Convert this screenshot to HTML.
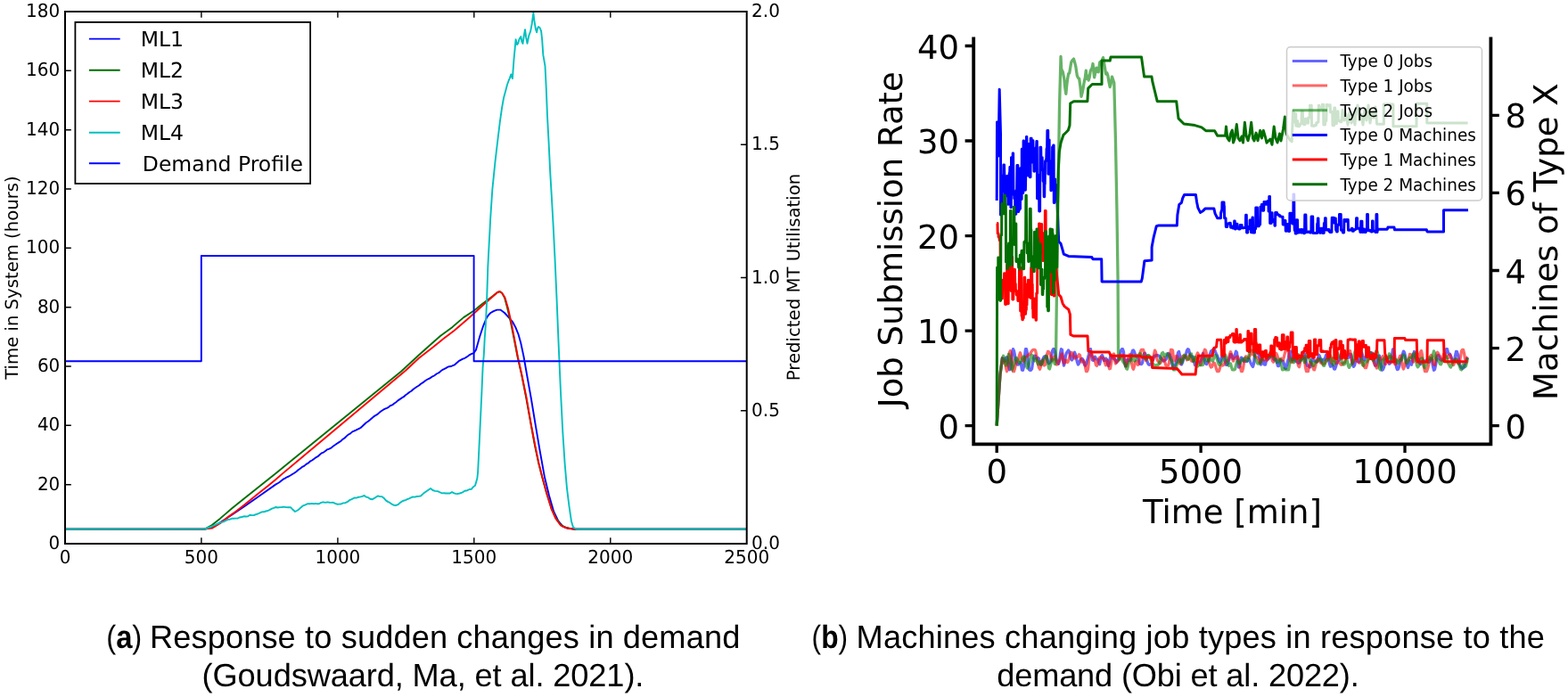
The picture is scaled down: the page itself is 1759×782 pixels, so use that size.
<!DOCTYPE html>
<html><head><meta charset="utf-8"><title>Figure</title>
<style>
html,body{margin:0;padding:0;background:#fff;}
body{width:1759px;height:782px;overflow:hidden;position:relative;}
svg{position:absolute;left:0;top:0;display:block;}
text{text-rendering:geometricPrecision;}
</style></head><body>
<svg width="1759" height="782" viewBox="0 0 1759 782">
<defs><clipPath id="clipL"><rect x="73.0" y="13.0" width="764.7" height="597.0"/></clipPath>
<clipPath id="clipR"><rect x="1092.2" y="39.5" width="580.2" height="458.8"/></clipPath></defs>
<g clip-path="url(#clipL)"><polyline points="73,593.7 229.8,593.5 238,591.5 246.8,586.4 253.5,582 260.3,577.4 273.7,568.5 291.6,556 309.5,543.4 311.6,542.2 313.6,541 315.7,539.3 317.7,537.7 319.8,536.6 321.9,535.3 323.9,534.5 326,533.3 328,532 330.1,530.7 332.3,529.2 334.5,527.2 336.7,525.7 338.9,523.9 341.2,522.9 343.4,520.9 345.6,519.7 347.8,517.7 350,516.5 352.1,514.9 354.3,513.3 356.4,512.2 358.6,510.2 360.7,508.4 362.9,507.6 365,506.1 367.1,504.3 369.3,503.6 371.4,502.6 373.6,500.7 375.7,499.3 377.9,497.7 380,496.4 382.2,495 384.4,492.9 386.6,491.5 388.7,489.4 390.9,487.5 393.1,486.3 395.3,484.4 397.3,483.5 399.3,482.7 401.3,481.7 403.3,480.7 405.3,479.4 408,476.8 410.7,474.2 413,472.7 415.4,470.8 417.7,468.7 420,466.8 422,465.7 424,464.4 426,462.5 428,461 430,459.7 432,458.7 434,457.9 436,456.7 438,455.1 440,454.4 442.1,452.7 444.3,451.2 446.4,449.4 448.6,447.9 450.7,446.4 452.9,445.2 455,443.2 457.1,441.8 459.3,440 461.4,438.8 463.6,436.8 465.7,435.2 467.9,433.7 470,432.5 472,430.7 474.1,429.4 476.1,427.9 478.1,426.5 480.2,425.3 482.2,424.4 484.6,422.7 487.1,421.5 489.6,419.5 492,418.4 494,416.8 496,415.1 498,414.2 500,413.2 502,411.9 504,411.2 506,411 508,410.1 510,409.3 512.3,407.2 514.6,405.2 516.9,403.9 519.2,402.6 521.5,401.8 523.7,400.4 526,398.7 528.8,397.2 531.6,396.1 534,392.4 536.1,385 538.3,377.2 542,366 544,361.1 546,356.4 548,353.5 550,351.3 553.7,349.1 557.5,347.6 561.3,347.6 566,351 570.9,356.3 575,361 578.6,367.8 581.5,375 584.3,385 587.5,400 591,420 596,448 600.7,476.7 605.5,505 611,535.6 616,556 621.2,574 626,584 631.4,590.6 638,593 646.7,593.7 837.7,593.7" fill="none" stroke="#0000ff" stroke-width="1.9" stroke-linejoin="round" stroke-linecap="butt" /><polyline points="73,593.7 229.8,593.5 237.9,589.1 246.8,581.9 253.5,576.1 260.3,570.3 273.7,559.5 291.6,545.2 309.5,530.9 330,514.3 350,498 370,481.8 390,465.5 410,449.3 430,433.1 450,416.8 470,398.2 482,387.5 494.2,376.7 507.6,366.9 520.1,356.1 531.8,348.5 540,341.8 545,338 553,332 558,328 560.5,327.2 563,328.5 566,334 569,345 573,362 577,382 580.5,400 585,420 590,445 595.2,474 600,500 604,519 608,534.5 613,553 618.6,570.5 623.5,581 628.8,588.5 635,592 642,593.4 646.7,593.7 837.7,593.7" fill="none" stroke="#006e00" stroke-width="1.9" stroke-linejoin="round" stroke-linecap="butt" /><polyline points="73,593.7 229.8,593.5 237.9,592.6 246.8,587.3 255.8,580.1 264.7,573.8 273.7,566.7 282.6,559.5 291.6,552.3 300.5,545.2 309,538.2 317.5,530.9 335,516.2 355,499.5 375,482.7 395,466 415,449.2 435,432.4 455,415.7 470,401.8 486.1,389.2 497.5,380 509.4,370.9 523.7,358.8 532.7,350.7 540,344 545,339.5 553,332.5 558,328 560.5,327.2 563,328.5 566.5,334 570,346 574,364 578,385 581,401 585.5,421 590.5,446 595.6,475 600.5,501 604.5,520 608.4,535.6 613.5,554 618.6,571 623.5,582 628.8,589.3 635,592.3 642,593.4 646.7,593.7 837.7,593.7" fill="none" stroke="#ff0000" stroke-width="1.9" stroke-linejoin="round" stroke-linecap="butt" /><polyline points="73,593.7 229.8,593.5 238,590.5 246.8,586.3 249.1,585.6 251.3,585.2 253.6,584 255.8,582.9 257.9,582.7 259.9,581.8 261.9,581.7 264,581.6 266.4,581.6 268.9,580.5 271.3,580 273.7,579.3 275.9,579.5 278.2,579.2 280.4,577.8 282.6,578.1 284.9,578 287.1,577.1 289.3,576.5 291.6,575.4 293.8,574.4 296,574.3 298.3,573.5 300.5,573 302.8,571.9 305,570.6 307.2,569.9 309.5,569 311.7,569.5 313.9,569.1 316.2,569 318.4,568.6 320.9,569.1 323.5,569.3 326,569.2 328.5,571.8 331,574 333,573 335,571.8 337.5,569.4 340,567.3 342.6,566.3 345.2,565.2 347.8,565.2 349.8,564.9 351.9,565.3 353.9,564.8 356,565.3 358,565.3 360.3,563.9 362.6,563.3 365,563.9 367.3,563.4 369.6,563.7 371.7,563.9 373.9,563.8 376,564.9 378.2,565.7 380.4,565.6 382.6,565.5 385,564.4 387.3,564.2 389.6,563.2 392,561.2 394,560.3 396,559.3 398,558.4 400,558.6 402.2,557.7 404.4,557.4 406.5,556.9 408.7,556 410.9,557.7 413,558.2 415.2,559.8 417.4,560.3 419.6,559.2 421.8,557.7 424,556.4 426.1,557.1 428.3,557.1 430.5,558.7 432.8,561.4 435,562.9 437.2,563.9 439.4,565.6 441.7,566.7 443.9,567 446.4,566.2 449,563.9 451.9,562 454.8,561.1 456.9,560.1 458.9,559.3 460.9,558.3 463,557.5 465.3,557.6 467.6,557 469.9,556.9 472.2,556.3 475.1,553.6 478,551.5 480.5,549.7 483,548 485.5,550 488,550.9 490.9,551.1 493.9,552.5 495.9,553.4 498,553.3 500,553.5 502.3,553.5 504.7,553.5 507,552.1 509,553.2 511,553.9 513,554.1 515.7,553.5 518.4,552.7 521.3,550.7 524.3,550.2 526.6,549 529,548.7 531,546.2 533,544.8 535.3,537 536.1,530 537,512 537.8,495 539,470 540.4,440 541.6,412 542.8,398 543.7,380 544.8,365 546,340 546.5,325 547.3,300 548.6,274.6 550.3,243 552.3,213 555.4,182.3 558,160 560.9,136.2 563.1,120.8 565,110 567.1,102.3 569,95 570.8,90 571.7,88.1 573.3,83.4 574.9,88.1 576.4,67.7 577.5,56 578.6,44.2 580,50 581.1,48.9 582.5,44 584.3,41 585.5,47 586.5,48.9 587.8,40 589,33.2 590.2,42 591.5,48.9 593.3,40 595.2,34.8 596.8,26 598.4,14.4 599.2,22 600,26.9 601,33 602.1,36.3 603,32 604,30.1 605.5,31 607.1,34.8 608.2,45 609.3,61.4 611.5,74 612.8,100 614,130.4 615.6,160 617.2,193.1 618.8,220 620.5,250 622.5,290 624.4,332.1 626.8,390 629,440 631.3,485 633.6,520 636,548 638.5,568 641,585 643,591.5 646.7,593.7 837.7,593.7" fill="none" stroke="#00bfbf" stroke-width="1.9" stroke-linejoin="round" stroke-linecap="butt" /><polyline points="73,405.3 225.8,405.3 225.8,287 531.6,287 531.6,405.3 837.7,405.3" fill="none" stroke="#0000ff" stroke-width="1.9" stroke-linejoin="round" stroke-linecap="butt" /></g><rect x="73.0" y="13.0" width="764.7" height="597.0" fill="none" stroke="#000" stroke-width="2"/><path d="M225.9 610.0v-6.8M225.9 13.0v6.8M378.9 610.0v-6.8M378.9 13.0v6.8M531.8 610.0v-6.8M531.8 13.0v6.8M684.8 610.0v-6.8M684.8 13.0v6.8M73.0 543.7h6.8M73.0 477.3h6.8M73.0 411.0h6.8M73.0 344.7h6.8M73.0 278.3h6.8M73.0 212.0h6.8M73.0 145.7h6.8M73.0 79.3h6.8M837.7 460.8h-6.8M837.7 311.5h-6.8M837.7 162.2h-6.8" stroke="#000" stroke-width="1.4" fill="none"/><g font-family="DejaVu Sans, Liberation Sans, sans-serif" font-size="20.6" fill="#000"><text x="67.3" y="616.1" text-anchor="end" textLength="12.7" lengthAdjust="spacingAndGlyphs">0</text><text x="67.3" y="549.8" text-anchor="end" textLength="25.4" lengthAdjust="spacingAndGlyphs">20</text><text x="67.3" y="483.4" text-anchor="end" textLength="25.4" lengthAdjust="spacingAndGlyphs">40</text><text x="67.3" y="417.1" text-anchor="end" textLength="25.4" lengthAdjust="spacingAndGlyphs">60</text><text x="67.3" y="350.8" text-anchor="end" textLength="25.4" lengthAdjust="spacingAndGlyphs">80</text><text x="67.3" y="284.4" text-anchor="end" textLength="38.2" lengthAdjust="spacingAndGlyphs">100</text><text x="67.3" y="218.1" text-anchor="end" textLength="38.2" lengthAdjust="spacingAndGlyphs">120</text><text x="67.3" y="151.8" text-anchor="end" textLength="38.2" lengthAdjust="spacingAndGlyphs">140</text><text x="67.3" y="85.4" text-anchor="end" textLength="38.2" lengthAdjust="spacingAndGlyphs">160</text><text x="67.3" y="19.1" text-anchor="end" textLength="38.2" lengthAdjust="spacingAndGlyphs">180</text><text x="73.0" y="631.9" text-anchor="middle" textLength="12.7" lengthAdjust="spacingAndGlyphs">0</text><text x="225.9" y="631.9" text-anchor="middle" textLength="38.2" lengthAdjust="spacingAndGlyphs">500</text><text x="378.9" y="631.9" text-anchor="middle" textLength="50.9" lengthAdjust="spacingAndGlyphs">1000</text><text x="531.8" y="631.9" text-anchor="middle" textLength="50.9" lengthAdjust="spacingAndGlyphs">1500</text><text x="684.8" y="631.9" text-anchor="middle" textLength="50.9" lengthAdjust="spacingAndGlyphs">2000</text><text x="837.7" y="631.9" text-anchor="middle" textLength="50.9" lengthAdjust="spacingAndGlyphs">2500</text><text x="843.1" y="616.1" textLength="31.8" lengthAdjust="spacingAndGlyphs">0.0</text><text x="843.1" y="466.9" textLength="31.8" lengthAdjust="spacingAndGlyphs">0.5</text><text x="843.1" y="317.6" textLength="31.8" lengthAdjust="spacingAndGlyphs">1.0</text><text x="843.1" y="168.3" textLength="31.8" lengthAdjust="spacingAndGlyphs">1.5</text><text x="843.1" y="19.1" textLength="31.8" lengthAdjust="spacingAndGlyphs">2.0</text><text transform="translate(19.5 311.6) rotate(-90)" text-anchor="middle" font-size="19.65">Time in System (hours)</text><text transform="translate(896.7 311) rotate(-90)" text-anchor="middle" font-size="19.7">Predicted MT Utilisation</text></g><rect x="84.4" y="24.9" width="263.7" height="181.1" fill="#fff" stroke="#000" stroke-width="1.8"/><path d="M99.9 43.6H134.7" stroke="#0000ff" stroke-width="1.9"/><text x="157.7" y="52.1" font-family="DejaVu Sans, Liberation Sans, sans-serif" font-size="23.5">ML1</text><path d="M99.9 78.8H134.7" stroke="#006e00" stroke-width="1.9"/><text x="157.7" y="87.3" font-family="DejaVu Sans, Liberation Sans, sans-serif" font-size="23.5">ML2</text><path d="M99.9 113.6H134.7" stroke="#ff0000" stroke-width="1.9"/><text x="157.7" y="122.1" font-family="DejaVu Sans, Liberation Sans, sans-serif" font-size="23.5">ML3</text><path d="M99.9 148.8H134.7" stroke="#00bfbf" stroke-width="1.9"/><text x="157.7" y="157.3" font-family="DejaVu Sans, Liberation Sans, sans-serif" font-size="23.5">ML4</text><path d="M99.9 183.3H134.7" stroke="#0000ff" stroke-width="1.9"/><text x="159.8" y="191.8" font-family="DejaVu Sans, Liberation Sans, sans-serif" font-size="23.5">Demand Profile</text>
<g clip-path="url(#clipR)"><polyline points="1118.2,477.6 1120,450 1122,420 1124.4,402 1125.5,402.3 1126.5,405.5 1127.5,404.9 1128.5,401.6 1129.5,400.7 1130.5,404.7 1131.5,410.8 1132.5,414.9 1133.5,413.5 1134.5,405.5 1135.5,395.8 1136.5,391.7 1137.5,393.8 1138.5,398.9 1139.5,403.8 1140.5,407.7 1141.5,409.2 1142.5,409.1 1143.5,408 1144.5,406.4 1145.5,408.7 1146.5,415.2 1147.5,415.3 1148.5,411.5 1149.5,399.9 1150.5,391.7 1151.5,391.7 1152.5,396.8 1153.5,406.5 1154.5,414.6 1155.5,415.3 1156.5,415.3 1157.5,413.9 1158.5,407.4 1159.5,402.1 1160.5,399.1 1161.5,399.4 1162.5,402.1 1163.5,403 1164.5,401.6 1165.5,402.4 1166.5,406.5 1167.5,409.3 1168.5,408 1169.5,404.4 1170.5,401.4 1171.5,400 1172.5,399.7 1173.5,400.1 1174.5,402.3 1175.5,405.9 1176.5,407.7 1177.5,407.2 1178.5,405.7 1179.5,401.3 1180.5,393.7 1181.5,391.7 1182.5,391.7 1183.5,394.9 1184.5,400.6 1185.5,404.5 1186.5,407 1187.5,408.2 1188.5,405.5 1189.5,396.4 1190.5,391.7 1191.5,392.6 1192.5,404.2 1193.5,410.1 1194.5,406 1195.5,399.1 1196.5,395.8 1197.5,394.6 1198.5,393 1199.5,394.3 1200.5,398.9 1201.5,402.7 1202.5,404 1203.5,402.1 1204.5,397.6 1205.5,395.3 1206.5,397.6 1207.5,402.1 1208.5,406.7 1209.5,409.1 1210.5,407.6 1211.5,404.9 1212.5,403.2 1213.5,402.4 1214.5,402.8 1215.5,405.5 1216.5,409 1217.5,410.2 1218.5,408.5 1219.5,404.8 1220.5,401.5 1221.5,397.3 1222.5,391.8 1223.5,391.7 1224.5,398.2 1225.5,404 1226.5,404.4 1227.5,401.2 1228.5,400.3 1229.5,402.5 1230.5,403.2 1231.5,403.1 1232.5,406.3 1233.5,408.7 1234.5,405 1235.5,399.6 1236.5,398.4 1237.5,401.3 1238.5,404.5 1239.5,404.3 1240.5,402.1 1241.5,403.3 1242.5,408.1 1243.5,410.5 1244.5,406.9 1245.5,400.8 1246.5,399.1 1247.5,401 1248.5,402 1249.5,402.2 1250.5,402.8 1251.5,404.6 1252.5,406.5 1253.5,405.2 1254.5,402.3 1255.5,400.4 1256.5,397.6 1257.5,393.3 1258.5,391.7 1259.5,391.7 1260.5,394.8 1261.5,404.7 1262.5,410.9 1263.5,408.4 1264.5,403.4 1265.5,403.1 1266.5,404.6 1267.5,404.1 1268.5,401.2 1269.5,396.7 1270.5,393.4 1271.5,393 1272.5,394.7 1273.5,397.7 1274.5,399.7 1275.5,399.1 1276.5,399.7 1277.5,404.1 1278.5,407.9 1279.5,408.4 1280.5,408.7 1281.5,407.1 1282.5,401.3 1283.5,396.7 1284.5,396.3 1285.5,399.4 1286.5,403.8 1287.5,407.2 1288.5,409 1289.5,409.3 1290.5,408.7 1291.5,408.1 1292.5,406.6 1293.5,403.5 1294.5,399.9 1295.5,399.1 1296.5,399.3 1297.5,398.4 1298.5,398.6 1299.5,399.1 1300.5,399.3 1301.5,401 1302.5,402.5 1303.5,403.1 1304.5,404.5 1305.5,405.1 1306.5,404.1 1307.5,403.6 1308.5,402.4 1309.5,398.8 1310.5,396.4 1311.5,397 1312.5,398.3 1313.5,400.8 1314.5,405.8 1315.5,411.4 1316.5,413.9 1317.5,412 1318.5,409.3 1319.5,406.6 1320.5,401.5 1321.5,395.8 1322.5,394.4 1323.5,398.6 1324.5,405.5 1325.5,409 1326.5,406.7 1327.5,403.2 1328.5,401.6 1329.5,400.1 1330.5,397.2 1331.5,393.2 1332.5,391.7 1333.5,392.2 1334.5,396.2 1335.5,399 1336.5,399.8 1337.5,399.9 1338.5,401.9 1339.5,405.8 1340.5,409.6 1341.5,410 1342.5,407.4 1343.5,405.8 1344.5,406 1345.5,406.3 1346.5,406.2 1347.5,404.1 1348.5,399.2 1349.5,396.5 1350.5,399.4 1351.5,404.6 1352.5,408.1 1353.5,408.6 1354.5,406.8 1355.5,404.5 1356.5,401.2 1357.5,397 1358.5,394.1 1359.5,393.3 1360.5,392.3 1361.5,391.7 1362.5,392 1363.5,394.8 1364.5,397.2 1365.5,399.1 1366.5,401.8 1367.5,405.1 1368.5,406.5 1369.5,404.5 1370.5,400.8 1371.5,396.8 1372.5,394.8 1373.5,398.8 1374.5,405.9 1375.5,409.4 1376.5,409.4 1377.5,407.9 1378.5,404.7 1379.5,400.6 1380.5,397.6 1381.5,397.9 1382.5,401 1383.5,402.6 1384.5,401.1 1385.5,397.7 1386.5,394.2 1387.5,395.5 1388.5,404.1 1389.5,412.1 1390.5,411.4 1391.5,405 1392.5,401.1 1393.5,402 1394.5,404.4 1395.5,405.5 1396.5,405.3 1397.5,405.2 1398.5,405.6 1399.5,404.5 1400.5,402.5 1401.5,403.1 1402.5,405.9 1403.5,408.3 1404.5,410.1 1405.5,411.5 1406.5,408 1407.5,398.8 1408.5,393 1409.5,394 1410.5,396.1 1411.5,396.7 1412.5,398.5 1413.5,404 1414.5,409.1 1415.5,408.1 1416.5,404.2 1417.5,404.9 1418.5,409.1 1419.5,409.2 1420.5,404.5 1421.5,402.2 1422.5,402.9 1423.5,402 1424.5,400.5 1425.5,399.2 1426.5,397.8 1427.5,399.2 1428.5,402.5 1429.5,403.7 1430.5,403.1 1431.5,403.4 1432.5,406.8 1433.5,410.6 1434.5,410.7 1435.5,406.9 1436.5,404 1437.5,404.4 1438.5,405.1 1439.5,405.3 1440.5,408.5 1441.5,413 1442.5,413.4 1443.5,409.8 1444.5,405.6 1445.5,401.3 1446.5,396.1 1447.5,394.1 1448.5,398.5 1449.5,403.9 1450.5,403.9 1451.5,401.3 1452.5,402.2 1453.5,405.2 1454.5,405.8 1455.5,405.5 1456.5,407.3 1457.5,407.1 1458.5,403.9 1459.5,402.3 1460.5,402.8 1461.5,402.1 1462.5,399.2 1463.5,397.1 1464.5,400.6 1465.5,407.5 1466.5,410.3 1467.5,410.1 1468.5,411.3 1469.5,412 1470.5,408.5 1471.5,403.6 1472.5,402.4 1473.5,404.2 1474.5,405.1 1475.5,404.9 1476.5,405.7 1477.5,406.1 1478.5,402.6 1479.5,398.3 1480.5,399.7 1481.5,404.3 1482.5,405.9 1483.5,404.1 1484.5,403.1 1485.5,403.8 1486.5,402.2 1487.5,398.4 1488.5,397.2 1489.5,399.6 1490.5,403.6 1491.5,408.4 1492.5,411.3 1493.5,410.2 1494.5,408.9 1495.5,410.7 1496.5,413.8 1497.5,414.1 1498.5,411.4 1499.5,408.2 1500.5,405.6 1501.5,404.4 1502.5,403.8 1503.5,401 1504.5,397.3 1505.5,396.8 1506.5,398.2 1507.5,397.4 1508.5,396.9 1509.5,398.8 1510.5,400.1 1511.5,400.2 1512.5,401.4 1513.5,400.4 1514.5,397.2 1515.5,397.7 1516.5,403.8 1517.5,409.7 1518.5,411.3 1519.5,410 1520.5,406.1 1521.5,402.1 1522.5,402.8 1523.5,405.5 1524.5,406 1525.5,403.2 1526.5,397.9 1527.5,395.4 1528.5,398.3 1529.5,402.6 1530.5,403.9 1531.5,401.9 1532.5,399.2 1533.5,399.1 1534.5,398.9 1535.5,396.7 1536.5,395.7 1537.5,395.8 1538.5,395.7 1539.5,396.2 1540.5,399.4 1541.5,405.5 1542.5,410.2 1543.5,410.2 1544.5,406.2 1545.5,402 1546.5,399.6 1547.5,399.1 1548.5,403.9 1549.5,411.7 1550.5,415.2 1551.5,414.4 1552.5,411.8 1553.5,408.1 1554.5,404.2 1555.5,401.6 1556.5,402.3 1557.5,406 1558.5,408.3 1559.5,407.7 1560.5,405 1561.5,398.9 1562.5,391.8 1563.5,391.7 1564.5,397.3 1565.5,406.1 1566.5,412.1 1567.5,414.5 1568.5,414.1 1569.5,411.6 1570.5,407.2 1571.5,403.3 1572.5,400.6 1573.5,397 1574.5,394.1 1575.5,395.4 1576.5,400.1 1577.5,405.9 1578.5,410.6 1579.5,412.5 1580.5,409.3 1581.5,405 1582.5,406.6 1583.5,409.2 1584.5,404.6 1585.5,397.4 1586.5,394.5 1587.5,396.6 1588.5,401.2 1589.5,403.4 1590.5,402.1 1591.5,403.2 1592.5,407.3 1593.5,408.6 1594.5,407 1595.5,405.6 1596.5,405 1597.5,404.9 1598.5,405.6 1599.5,405.2 1600.5,403.8 1601.5,404.5 1602.5,406.4 1603.5,406 1604.5,403.6 1605.5,402.5 1606.5,405.1 1607.5,411.1 1608.5,415.3 1609.5,414.4 1610.5,409.8 1611.5,403.9 1612.5,399.3 1613.5,398.5 1614.5,400.7 1615.5,403.2 1616.5,403.8 1617.5,402.9 1618.5,403.3 1619.5,404.1 1620.5,400.9 1621.5,394.4 1622.5,391.7 1623.5,391.7 1624.5,395.6 1625.5,397.3 1626.5,397.2 1627.5,399.3 1628.5,402.1 1629.5,403.8 1630.5,405.7 1631.5,404.9 1632.5,399.4 1633.5,394.5 1634.5,394.6 1635.5,398.1 1636.5,403.3 1637.5,408.4 1638.5,411.4 1639.5,412.8 1640.5,413.4 1641.5,413 1642.5,411.5 1643.5,408.9 1644.5,405.4 1645.5,402.4 1646.5,400.8" fill="none" stroke="rgba(0,0,255,0.6)" stroke-width="3.3" stroke-linejoin="round" stroke-linecap="butt" /><polyline points="1118.2,477.6 1120,450 1122,420 1124.4,402 1125.5,407.4 1126.5,404.2 1127.5,405.8 1128.5,412.7 1129.5,416.7 1130.5,412.7 1131.5,402.9 1132.5,395.3 1133.5,393.6 1134.5,398.6 1135.5,408.7 1136.5,416.7 1137.5,416.7 1138.5,413.2 1139.5,408.3 1140.5,405.6 1141.5,405.1 1142.5,403.4 1143.5,398.6 1144.5,395.8 1145.5,399.1 1146.5,403.2 1147.5,404.8 1148.5,405.2 1149.5,403.3 1150.5,400.6 1151.5,400.2 1152.5,399.5 1153.5,398.1 1154.5,397.8 1155.5,397.1 1156.5,395.4 1157.5,393.8 1158.5,392.7 1159.5,392.3 1160.5,392.3 1161.5,393.1 1162.5,397.4 1163.5,403.7 1164.5,408.7 1165.5,412.5 1166.5,414.3 1167.5,411.4 1168.5,406 1169.5,404 1170.5,406.9 1171.5,410 1172.5,409.2 1173.5,404 1174.5,397.6 1175.5,394.4 1176.5,394.7 1177.5,396 1178.5,399.1 1179.5,403 1180.5,404.5 1181.5,403.4 1182.5,400.6 1183.5,399.6 1184.5,403.9 1185.5,409.1 1186.5,408.6 1187.5,405.5 1188.5,404.6 1189.5,402.4 1190.5,397.9 1191.5,397.1 1192.5,402.5 1193.5,407.6 1194.5,406.8 1195.5,404.2 1196.5,405.1 1197.5,406.6 1198.5,405.1 1199.5,401.8 1200.5,398.3 1201.5,395.7 1202.5,395.6 1203.5,397.2 1204.5,400 1205.5,402 1206.5,401.2 1207.5,400 1208.5,400.5 1209.5,400 1210.5,397.8 1211.5,398.6 1212.5,403.2 1213.5,406.1 1214.5,405.3 1215.5,404.6 1216.5,406.7 1217.5,411.7 1218.5,416.7 1219.5,416.7 1220.5,414.2 1221.5,405.4 1222.5,399.1 1223.5,396.5 1224.5,396.4 1225.5,399.2 1226.5,401.7 1227.5,402.5 1228.5,405.5 1229.5,409.7 1230.5,410.4 1231.5,407.8 1232.5,403.9 1233.5,401.1 1234.5,400.8 1235.5,401.4 1236.5,401.4 1237.5,401.5 1238.5,403.2 1239.5,407.2 1240.5,409.9 1241.5,407.3 1242.5,404.1 1243.5,407.7 1244.5,413.8 1245.5,413.4 1246.5,407.4 1247.5,402.1 1248.5,397.8 1249.5,397 1250.5,402.9 1251.5,408 1252.5,406.9 1253.5,405.2 1254.5,404.9 1255.5,403.3 1256.5,401.2 1257.5,399.5 1258.5,398.4 1259.5,398.4 1260.5,400 1261.5,404.7 1262.5,410.2 1263.5,411 1264.5,407.3 1265.5,403.5 1266.5,399.9 1267.5,397.7 1268.5,400.4 1269.5,406.7 1270.5,412.5 1271.5,414.3 1272.5,410.9 1273.5,406.5 1274.5,405.1 1275.5,406.8 1276.5,409.4 1277.5,408.3 1278.5,402.1 1279.5,394 1280.5,392.3 1281.5,392.3 1282.5,392.3 1283.5,395.7 1284.5,401.5 1285.5,404.5 1286.5,402 1287.5,399.4 1288.5,399.4 1289.5,400.1 1290.5,400.9 1291.5,403.1 1292.5,405.4 1293.5,404 1294.5,397.9 1295.5,393.1 1296.5,395.1 1297.5,400.9 1298.5,404.4 1299.5,405.7 1300.5,407.1 1301.5,407.5 1302.5,406.1 1303.5,404.4 1304.5,401.8 1305.5,401 1306.5,404.7 1307.5,409.1 1308.5,410.2 1309.5,409.8 1310.5,409.9 1311.5,407.3 1312.5,399.1 1313.5,392.3 1314.5,392.3 1315.5,393 1316.5,402.7 1317.5,404.8 1318.5,401.4 1319.5,399.4 1320.5,400 1321.5,403.2 1322.5,406.7 1323.5,408.2 1324.5,407.6 1325.5,404 1326.5,399.7 1327.5,399.3 1328.5,400.1 1329.5,399.2 1330.5,400.5 1331.5,403.8 1332.5,403.4 1333.5,399.7 1334.5,398.7 1335.5,402 1336.5,405 1337.5,405.3 1338.5,404.9 1339.5,404.2 1340.5,402.9 1341.5,401.3 1342.5,398.6 1343.5,396 1344.5,398 1345.5,404.9 1346.5,409.5 1347.5,407.2 1348.5,402.1 1349.5,398.3 1350.5,394.9 1351.5,392.3 1352.5,393.1 1353.5,396.8 1354.5,400.1 1355.5,402.8 1356.5,406.4 1357.5,410 1358.5,412.1 1359.5,411.6 1360.5,409 1361.5,407.1 1362.5,407.5 1363.5,410 1364.5,413.9 1365.5,416.7 1366.5,416.7 1367.5,416.4 1368.5,412.9 1369.5,409.4 1370.5,408.9 1371.5,410 1372.5,409.6 1373.5,408.1 1374.5,406.4 1375.5,404.6 1376.5,404.3 1377.5,404.6 1378.5,402 1379.5,397.1 1380.5,394.7 1381.5,397.2 1382.5,402.6 1383.5,405.1 1384.5,402.7 1385.5,401.6 1386.5,402.2 1387.5,400.5 1388.5,400.1 1389.5,403.3 1390.5,407.2 1391.5,412.3 1392.5,416.7 1393.5,416.7 1394.5,413.5 1395.5,407 1396.5,402.2 1397.5,399.9 1398.5,400.1 1399.5,401.1 1400.5,401.4 1401.5,400.5 1402.5,398 1403.5,396.2 1404.5,396.6 1405.5,397.7 1406.5,398.4 1407.5,399.4 1408.5,400 1409.5,400.3 1410.5,401.3 1411.5,402.6 1412.5,405.2 1413.5,407.3 1414.5,404.9 1415.5,401.5 1416.5,402.7 1417.5,404.1 1418.5,402.5 1419.5,402.3 1420.5,403.7 1421.5,404.1 1422.5,402.4 1423.5,398.5 1424.5,395.7 1425.5,396.9 1426.5,400.9 1427.5,405 1428.5,406.2 1429.5,403.9 1430.5,399.4 1431.5,396.2 1432.5,397.8 1433.5,401.3 1434.5,403.5 1435.5,404.2 1436.5,402.8 1437.5,402.2 1438.5,404 1439.5,403.8 1440.5,399.9 1441.5,395.6 1442.5,392.4 1443.5,392.3 1444.5,392.3 1445.5,395.5 1446.5,402 1447.5,405 1448.5,406.3 1449.5,406.5 1450.5,403.9 1451.5,400.1 1452.5,398.2 1453.5,399.2 1454.5,401.8 1455.5,405.6 1456.5,410.3 1457.5,411.7 1458.5,407 1459.5,401.5 1460.5,400 1461.5,399.8 1462.5,399.2 1463.5,402.2 1464.5,412.4 1465.5,416.7 1466.5,416.7 1467.5,416.7 1468.5,410.4 1469.5,406.8 1470.5,407.4 1471.5,408.4 1472.5,411 1473.5,414.4 1474.5,414.9 1475.5,411.5 1476.5,406.8 1477.5,403.3 1478.5,402.2 1479.5,403.2 1480.5,405.3 1481.5,407 1482.5,407.5 1483.5,408 1484.5,408.7 1485.5,408.1 1486.5,406.9 1487.5,405.1 1488.5,402.9 1489.5,401.9 1490.5,400.9 1491.5,400.3 1492.5,403.2 1493.5,406.8 1494.5,405.2 1495.5,401.9 1496.5,401.9 1497.5,404.9 1498.5,407.7 1499.5,407.3 1500.5,405.6 1501.5,405.7 1502.5,406.9 1503.5,408.1 1504.5,409.3 1505.5,409.1 1506.5,407.6 1507.5,407 1508.5,406.7 1509.5,402.9 1510.5,397.5 1511.5,395.1 1512.5,395.4 1513.5,394.5 1514.5,393.6 1515.5,398.2 1516.5,405.7 1517.5,407.9 1518.5,405.3 1519.5,404 1520.5,404.1 1521.5,403.8 1522.5,404.5 1523.5,406.1 1524.5,407 1525.5,407.1 1526.5,405.6 1527.5,403.7 1528.5,405.6 1529.5,409.4 1530.5,411.3 1531.5,412.7 1532.5,412.7 1533.5,409.3 1534.5,405.1 1535.5,402.6 1536.5,401.8 1537.5,402.1 1538.5,402.2 1539.5,402.6 1540.5,404.8 1541.5,407.4 1542.5,408.9 1543.5,411.1 1544.5,413 1545.5,411.3 1546.5,406.4 1547.5,401.9 1548.5,401.4 1549.5,403.2 1550.5,401.7 1551.5,399.5 1552.5,403 1553.5,407.9 1554.5,408.5 1555.5,406 1556.5,403 1557.5,400.9 1558.5,399.7 1559.5,399.9 1560.5,400.6 1561.5,400.4 1562.5,400.9 1563.5,404.2 1564.5,408.2 1565.5,409 1566.5,406.8 1567.5,404.7 1568.5,403.5 1569.5,402 1570.5,399.4 1571.5,399.1 1572.5,404.5 1573.5,411.9 1574.5,414.1 1575.5,411 1576.5,407 1577.5,404.5 1578.5,404.4 1579.5,404.5 1580.5,401.2 1581.5,397.5 1582.5,397.6 1583.5,400.3 1584.5,404.1 1585.5,406 1586.5,404.7 1587.5,401.2 1588.5,396.7 1589.5,394.9 1590.5,399.3 1591.5,404.2 1592.5,401.4 1593.5,394.9 1594.5,393.6 1595.5,398.6 1596.5,405.7 1597.5,412.2 1598.5,416.7 1599.5,416.7 1600.5,416.7 1601.5,413.8 1602.5,410.3 1603.5,404.9 1604.5,399.8 1605.5,398.6 1606.5,400.9 1607.5,404.7 1608.5,409 1609.5,409.4 1610.5,403.5 1611.5,397.4 1612.5,395.3 1613.5,396.6 1614.5,398.5 1615.5,399.7 1616.5,402.4 1617.5,404.6 1618.5,402.3 1619.5,397.4 1620.5,396.2 1621.5,397.9 1622.5,399.3 1623.5,401.6 1624.5,401.7 1625.5,398.6 1626.5,397.9 1627.5,400.4 1628.5,403.5 1629.5,407.5 1630.5,409.5 1631.5,407.5 1632.5,404.3 1633.5,402.7 1634.5,403.9 1635.5,406.9 1636.5,408 1637.5,405.4 1638.5,400.2 1639.5,393.9 1640.5,392.3 1641.5,392.3 1642.5,396.3 1643.5,402.7 1644.5,403.8 1645.5,401.5 1646.5,400.6" fill="none" stroke="rgba(255,0,0,0.6)" stroke-width="3.3" stroke-linejoin="round" stroke-linecap="butt" /><polyline points="1118.2,477.6 1120,450 1122,420 1124.4,402 1125.5,399.3 1126.5,401.3 1127.5,406.5 1128.5,410 1129.5,408 1130.5,401.9 1131.5,397.4 1132.5,399.8 1133.5,407.3 1134.5,413.9 1135.5,414.9 1136.5,411.5 1137.5,407.2 1138.5,403.6 1139.5,401.5 1140.5,401.7 1141.5,403.5 1142.5,405.8 1143.5,407.3 1144.5,407.1 1145.5,405.3 1146.5,402.7 1147.5,401 1148.5,399.9 1149.5,400.4 1150.5,405.2 1151.5,411 1152.5,412.9 1153.5,411.1 1154.5,408.1 1155.5,404 1156.5,399.9 1157.5,398.3 1158.5,399.6 1159.5,403.1 1160.5,404.9 1161.5,403.1 1162.5,402.4 1163.5,406 1164.5,408.8 1165.5,407.7 1166.5,405.7 1167.5,407.1 1168.5,409 1169.5,406.9 1170.5,403.7 1171.5,402.7 1172.5,401.7 1173.5,399.3 1174.5,400.1 1175.5,406.3 1176.5,413.1 1177.5,413.9 1178.5,409.8 1179.5,405.7 1180.5,403.2 1181.5,403.4 1182.5,406.4 1183.5,408.6 1184.5,400 1186.5,250 1188.5,120 1190,63.5 1190.7,77.6 1192.3,80.7 1193.8,88.4 1194.8,98.6 1195.8,105.3 1196.7,95.8 1197.6,88.4 1198.6,82.7 1199.7,82.1 1200.7,76.1 1201.8,69.6 1203,67.7 1204.5,66.1 1205.7,70.2 1206.8,74.6 1207.6,80.3 1208.4,85.3 1209.6,87.5 1210.7,88.4 1211.8,96.2 1213,108.3 1214.2,103.7 1215.3,97.6 1216.3,91.5 1217.3,87.4 1218.3,79.2 1219.1,88.4 1220.1,85 1221.2,90.1 1222.2,86.8 1223.1,80.4 1224,78 1225,76.6 1226,71.5 1227.6,86.8 1228.8,81.5 1229.9,76.1 1231.1,80.4 1232.2,80.7 1233.7,70 1234.6,69.1 1235.5,72 1236.5,67.2 1237.5,64.6 1239.1,73.8 1240.6,83 1241.8,81.7 1242.9,85.3 1244,92 1245.2,97.6 1246.3,93.5 1247.5,86.1 1248.7,89.8 1249.8,93 1250.5,120 1251.5,160 1253,240 1254.1,316 1254.5,398 1255.5,403.3 1256.5,399.5 1257.5,399.6 1258.5,402.4 1259.5,405.2 1260.5,406.9 1261.5,407.5 1262.5,409.6 1263.5,413.4 1264.5,414.2 1265.5,410.5 1266.5,406.5 1267.5,405.5 1268.5,404.4 1269.5,400.7 1270.5,398.4 1271.5,401 1272.5,405 1273.5,404.9 1274.5,401.5 1275.5,399.6 1276.5,399.3 1277.5,398.2 1278.5,396.7 1279.5,397.1 1280.5,398.7 1281.5,400.1 1282.5,400.7 1283.5,400.9 1284.5,401.9 1285.5,402.9 1286.5,401.3 1287.5,398.7 1288.5,398.5 1289.5,399.5 1290.5,401.5 1291.5,405 1292.5,407.3 1293.5,407.9 1294.5,409.2 1295.5,411 1296.5,410.5 1297.5,409.5 1298.5,409.6 1299.5,409.2 1300.5,407.6 1301.5,403.9 1302.5,399.3 1303.5,396.2 1304.5,395.6 1305.5,397.6 1306.5,399.8 1307.5,399 1308.5,397.1 1309.5,396.8 1310.5,398.2 1311.5,400.4 1312.5,402.3 1313.5,403.6 1314.5,404.7 1315.5,408.5 1316.5,414.9 1317.5,414.9 1318.5,414.9 1319.5,411.7 1320.5,407.4 1321.5,406.1 1322.5,404.3 1323.5,402.9 1324.5,404.6 1325.5,407.4 1326.5,405.8 1327.5,400.8 1328.5,398.2 1329.5,399.2 1330.5,401.2 1331.5,402.1 1332.5,403 1333.5,403.2 1334.5,400.5 1335.5,397.2 1336.5,397 1337.5,400.9 1338.5,405.4 1339.5,404.3 1340.5,400.5 1341.5,402.9 1342.5,409.1 1343.5,411 1344.5,409.5 1345.5,409.3 1346.5,409.6 1347.5,409.4 1348.5,409.6 1349.5,409.3 1350.5,405.8 1351.5,401.6 1352.5,400.9 1353.5,402.9 1354.5,405 1355.5,405.2 1356.5,403.4 1357.5,401.9 1358.5,402.6 1359.5,404.7 1360.5,405 1361.5,402.1 1362.5,399.2 1363.5,398.4 1364.5,400 1365.5,403.5 1366.5,407 1367.5,409.2 1368.5,409.4 1369.5,407.6 1370.5,406 1371.5,404.5 1372.5,401.2 1373.5,397.7 1374.5,397.8 1375.5,400.9 1376.5,404.8 1377.5,409 1378.5,410.4 1379.5,408.4 1380.5,408 1381.5,411.8 1382.5,414.9 1383.5,414.9 1384.5,414.9 1385.5,414.3 1386.5,409.9 1387.5,405.7 1388.5,405 1389.5,406.7 1390.5,407.9 1391.5,407.2 1392.5,404.6 1393.5,403.3 1394.5,404.1 1395.5,403.7 1396.5,401.9 1397.5,402 1398.5,404.1 1399.5,405 1400.5,402.5 1401.5,396.3 1402.5,393.1 1403.5,393.1 1404.5,393.1 1405.5,393.1 1406.5,393.8 1407.5,398.3 1408.5,402.7 1409.5,405.4 1410.5,407.4 1411.5,408.2 1412.5,407.9 1413.5,407.4 1414.5,405.6 1415.5,403.2 1416.5,401.4 1417.5,399.3 1418.5,398.2 1419.5,398.4 1420.5,399.2 1421.5,400.3 1422.5,400.6 1423.5,400.3 1424.5,399.6 1425.5,399 1426.5,399 1427.5,399.3 1428.5,399.7 1429.5,400.1 1430.5,401.8 1431.5,404.8 1432.5,406.7 1433.5,406.6 1434.5,405.3 1435.5,403.1 1436.5,403.9 1437.5,409.8 1438.5,414.8 1439.5,414.9 1440.5,413.4 1441.5,414.3 1442.5,414.9 1443.5,414.9 1444.5,414.9 1445.5,414.9 1446.5,409.4 1447.5,404.3 1448.5,402.1 1449.5,403.3 1450.5,405.8 1451.5,406.7 1452.5,404.1 1453.5,400.6 1454.5,399.3 1455.5,398.2 1456.5,397.7 1457.5,401 1458.5,405.1 1459.5,404.5 1460.5,400.9 1461.5,400.5 1462.5,404.1 1463.5,406.6 1464.5,404.6 1465.5,400.2 1466.5,396.4 1467.5,396 1468.5,400.6 1469.5,405.2 1470.5,405.4 1471.5,406.4 1472.5,410 1473.5,410.4 1474.5,407.6 1475.5,406.2 1476.5,406.2 1477.5,405.5 1478.5,404.5 1479.5,403.5 1480.5,402.6 1481.5,402.5 1482.5,403.8 1483.5,407 1484.5,410.1 1485.5,410.4 1486.5,407.8 1487.5,404.4 1488.5,403.5 1489.5,404.1 1490.5,402.4 1491.5,399.4 1492.5,398.8 1493.5,401.8 1494.5,406.7 1495.5,409.8 1496.5,408.3 1497.5,404.1 1498.5,400.5 1499.5,397.6 1500.5,396.3 1501.5,398.7 1502.5,400.9 1503.5,400.8 1504.5,402.8 1505.5,406.4 1506.5,408 1507.5,409 1508.5,408.5 1509.5,405.5 1510.5,403 1511.5,405 1512.5,410.4 1513.5,412.4 1514.5,410.4 1515.5,409 1516.5,408.4 1517.5,406.3 1518.5,401.8 1519.5,396 1520.5,393.1 1521.5,393.1 1522.5,395.1 1523.5,395.7 1524.5,393.4 1525.5,393.1 1526.5,397.4 1527.5,404.4 1528.5,409.4 1529.5,410.3 1530.5,408.3 1531.5,405.8 1532.5,405.2 1533.5,405.9 1534.5,403.5 1535.5,398.4 1536.5,395.1 1537.5,395.9 1538.5,399.6 1539.5,402.9 1540.5,404.1 1541.5,403.5 1542.5,399.6 1543.5,394.2 1544.5,393.1 1545.5,396.1 1546.5,404.5 1547.5,413.5 1548.5,414.9 1549.5,411.9 1550.5,406.2 1551.5,403.6 1552.5,402.6 1553.5,401.1 1554.5,401 1555.5,403.4 1556.5,404.1 1557.5,400.4 1558.5,396.9 1559.5,398.3 1560.5,402.3 1561.5,405.2 1562.5,404.7 1563.5,402.4 1564.5,402.4 1565.5,403.2 1566.5,404.2 1567.5,406.8 1568.5,407.7 1569.5,405.5 1570.5,403.8 1571.5,404.2 1572.5,403.4 1573.5,400.2 1574.5,397.9 1575.5,399.1 1576.5,402.9 1577.5,406.6 1578.5,407.8 1579.5,406 1580.5,403.1 1581.5,401.4 1582.5,401.4 1583.5,401.3 1584.5,399.2 1585.5,397.2 1586.5,396.7 1587.5,398.7 1588.5,404.5 1589.5,410.2 1590.5,411.8 1591.5,410.6 1592.5,408.2 1593.5,405 1594.5,402.1 1595.5,402 1596.5,406.3 1597.5,411.5 1598.5,412.6 1599.5,409.8 1600.5,407.2 1601.5,405.2 1602.5,402.7 1603.5,401.1 1604.5,401.8 1605.5,403.8 1606.5,402.9 1607.5,397.6 1608.5,393.9 1609.5,396 1610.5,400.8 1611.5,403.5 1612.5,403.8 1613.5,404.3 1614.5,406.1 1615.5,408.5 1616.5,408.8 1617.5,406.4 1618.5,404.4 1619.5,404.3 1620.5,402.9 1621.5,400 1622.5,400.1 1623.5,404.1 1624.5,407.3 1625.5,408.9 1626.5,411 1627.5,412 1628.5,409.8 1629.5,406.7 1630.5,405.5 1631.5,404.5 1632.5,403.2 1633.5,403.4 1634.5,405.4 1635.5,407.5 1636.5,408.8 1637.5,411 1638.5,414.3 1639.5,414.9 1640.5,411.5 1641.5,408.7 1642.5,409.9 1643.5,411.6 1644.5,410.6 1645.5,406.7 1646.5,401.9" fill="none" stroke="rgba(0,128,0,0.6)" stroke-width="3.3" stroke-linejoin="round" stroke-linecap="butt" /><polyline points="1118.2,225 1118.5,137 1120,175 1121.2,100.2 1122.5,150 1122.5,241 1123.2,241 1123.4,239.2 1124.1,239.2 1124.3,214.7 1125.1,214.7 1125.3,196.7 1125.7,196.7 1125.9,184.9 1126.5,184.9 1126.8,196.8 1127.2,196.8 1127.5,220.1 1128.2,220.1 1128.5,216 1129.2,216 1129.4,218.4 1129.7,218.4 1130,197.6 1130.6,197.6 1130.9,229.3 1131.2,229.3 1131.5,226.1 1131.9,226.1 1132.2,194.5 1132.7,194.5 1132.9,187.5 1133.7,187.5 1133.9,232.7 1134.3,232.7 1134.5,176.8 1135,176.8 1135.2,218 1136,218 1136.2,172 1136.6,172 1136.9,214.7 1137.6,214.7 1137.8,222.8 1138.7,222.8 1138.9,240.2 1139.8,240.2 1140,213.7 1140.7,213.7 1141,185.6 1141.8,185.6 1142,237.6 1142.6,237.6 1142.9,235.5 1143.5,235.5 1143.7,234.3 1144.5,234.3 1144.7,188.7 1145.1,188.7 1145.4,223.6 1146.1,223.6 1146.3,167.3 1146.7,167.3 1147,216.6 1147.8,216.6 1148.1,157.9 1148.5,157.9 1148.8,205.9 1149.5,205.9 1149.7,213.2 1150.4,213.2 1150.7,197.3 1151.2,197.3 1151.5,153.4 1151.8,153.4 1152.1,172.6 1152.8,172.6 1153.1,196.9 1153.5,196.9 1153.7,161.5 1154.5,161.5 1154.7,193.4 1155.1,193.4 1155.3,198.7 1156,198.7 1156.2,155.2 1157.1,155.2 1157.4,182.1 1158,182.1 1158.3,157.8 1158.9,157.8 1159.2,177.7 1159.7,177.7 1160,192.3 1160.5,192.3 1160.8,185.1 1161.7,185.1 1161.9,165.9 1162.6,165.9 1162.9,158.4 1163.3,158.4 1163.5,222.8 1163.8,222.8 1164.1,207.4 1165,207.4 1165.2,196.4 1165.6,196.4 1165.8,236.9 1166.6,236.9 1166.9,165.2 1167.7,165.2 1168,182 1168.5,182 1168.7,176.7 1169.2,176.7 1169.4,190.5 1170,190.5 1170.2,203.4 1171,203.4 1171.2,220.7 1171.7,220.7 1171.9,206.6 1172.2,206.6 1172.5,181.1 1172.9,181.1 1173.2,179.4 1173.8,179.4 1174.1,166.7 1174.6,166.7 1174.9,146.6 1175.7,146.6 1175.9,195.3 1176.5,195.3 1176.8,157.1 1177.1,157.1 1177.3,180.3 1177.7,180.3 1178,187.7 1178.7,187.7 1178.9,213.8 1179.2,213.8 1179.5,212.8 1180.4,212.8 1180.6,165 1181.5,165 1181.7,163 1182.1,163 1182.3,227.6 1182.8,227.6 1183,201.1 1183.6,201.1 1183.8,216.2 1184.6,216.2 1184.9,207.7 1185.4,207.7 1185.7,220 1187.7,271 1190,273.3 1192.2,280.9 1193.3,285.2 1198.7,287.4 1224.8,288.5 1225.9,290.7 1235.7,290.7 1236.1,316.1 1280.2,316.1 1281.3,312.4 1283.9,292.8 1292.1,292 1292.1,277.3 1294.1,266.5 1297.3,253.7 1299.2,253.1 1320.3,253.1 1320.9,240.9 1322.8,229.4 1325.4,227.5 1326.7,222.4 1328.6,218.5 1341.4,218.5 1342.6,226.8 1343.9,233.2 1346.5,238.4 1349.7,236.4 1352.2,233.9 1361.8,233.9 1363.1,239.6 1365.7,244.7 1369.5,244.7 1369.6,238.5 1370,238.5 1370.3,236.3 1370.8,236.3 1371,226.9 1373,226.9 1373.2,231.2 1373.4,231.2 1373.6,244.8 1375,244.8 1375.3,254.4 1376.8,254.4 1377.1,251 1378.8,251 1379,250.2 1380.3,250.2 1380.6,255.2 1382,255.2 1382.2,254 1382.8,254 1383.1,255.9 1384.5,255.9 1384.7,247.9 1385.2,247.9 1385.5,257 1386.2,257 1386.5,251.2 1388,251.2 1388.2,256.2 1389.4,256.2 1389.6,257 1391,257 1391.3,252.5 1393,252.5 1393.3,255.8 1394.2,255.8 1394.4,255.8 1395.3,255.8 1395.6,255.6 1397.3,255.6 1397.6,241.3 1398.3,241.3 1398.6,260.9 1399.7,260.9 1400,254.7 1400.4,254.7 1400.7,256.7 1401.9,256.7 1402.1,247 1403.2,247 1403.5,260.7 1404.7,260.7 1405,244 1405.4,244 1405.7,261.1 1407.4,261.1 1407.6,256.7 1408.6,256.7 1408.8,232.9 1410.5,232.9 1410.7,253.7 1412.3,253.7 1412.6,252.1 1413.6,252.1 1413.9,232.2 1415,232.2 1415.3,229.6 1416.2,229.6 1416.4,236.3 1417.7,236.3 1418,226.4 1419.7,226.4 1419.9,229.3 1421.6,229.3 1421.8,225.8 1422.9,225.8 1423.1,237.1 1423.6,237.1 1423.8,220.5 1424.5,220.5 1424.7,250.4 1426.2,250.4 1426.5,238.7 1427.1,238.7 1427.4,248.4 1429,248.4 1429.2,246.3 1429.7,246.3 1430,253.3 1430.5,253.3 1430.7,238.5 1432.4,238.5 1432.6,240.7 1434.2,240.7 1434.4,241.4 1435.5,241.4 1435.7,242.8 1437,242.8 1437.3,243.3 1439,243.3 1439.2,252 1440.6,252 1440.9,247.5 1442,247.5 1442.3,259.2 1443.3,259.2 1443.6,251.6 1445.3,251.6 1445.5,259.5 1446.6,259.5 1446.9,239.3 1448.4,239.3 1448.6,246 1449.5,246 1449.8,251 1450.8,251 1451,218 1451.7,218 1451.9,249.2 1452,249.2 1452.3,258.5 1453,258.5 1453.3,262.1 1454.2,262.1 1454.5,246.8 1455.5,246.8 1455.8,261.1 1457.2,261.1 1457.4,257.8 1459.2,257.8 1459.4,257.4 1460.2,257.4 1459.6,260.9 1460.8,260.9 1461,257.8 1462.5,257.8 1462.8,261.8 1463.5,261.8 1463.8,241 1464.9,241 1465.2,260.5 1466.9,260.5 1467.2,259.9 1468.9,259.9 1469.2,260.9 1470.9,260.9 1471.1,243 1472.7,243 1473,261.6 1474.6,261.6 1474.8,261.5 1476.6,261.5 1476.8,261.6 1477.5,261.6 1477.7,251.1 1478.2,251.1 1478.4,244.9 1478.9,244.9 1479.2,256.8 1480.3,256.8 1480.6,261.3 1481.6,261.3 1481.8,256.3 1483.3,256.3 1483.6,261.5 1485.2,261.5 1485.4,250.5 1486.3,250.5 1486.5,244.7 1487.2,244.7 1487.4,258 1489.4,258 1489.6,257.5 1490.8,257.5 1491,259.5 1491.8,259.5 1492,260.5 1493.9,260.5 1494.2,244.2 1496.1,244.2 1496.3,250 1497.4,250 1497.6,245 1498.3,245 1498.6,257.9 1499.2,257.9 1499.5,259.9 1500.3,259.9 1500.5,252.3 1502.2,252.3 1502.5,240.5 1504.2,240.5 1504.4,258.3 1506.2,258.3 1506.4,261 1507.6,261 1507.9,246.4 1508.8,246.4 1509.1,248.3 1510.1,248.3 1510.3,246.4 1512.2,246.4 1512.5,258.2 1514.4,258.2 1514.6,258.1 1516,258.1 1516.3,256.2 1517,256.2 1517.3,259.3 1518.4,259.3 1518.7,257.8 1520.3,257.8 1520.6,257 1521.3,257 1521.6,244.8 1522.5,244.8 1522.7,256.2 1524.7,256.2 1524.9,257.3 1525.7,257.3 1525.9,260.5 1526.4,260.5 1526.7,248.2 1527.9,248.2 1528.1,260.6 1528.8,260.6 1529,256.9 1530.5,256.9 1530.8,260.5 1532.1,260.5 1532.3,258.9 1533.4,258.9 1533.6,240.5 1534.4,240.5 1534.6,257.8 1535.5,257.8 1535.8,259 1536.4,259 1536.7,258.4 1538.2,258.4 1538.4,260 1539.3,260 1539.5,248 1540.1,248 1540.3,258.8 1540.9,258.8 1541.2,259.2 1542.9,259.2 1543.2,260.6 1543.8,260.6 1544,240.5 1544.8,240.5 1545,260.6 1545.5,257.2 1556.3,257.2 1556.9,255.1 1564,255.1 1564.6,257.8 1600.4,257.8 1601,259.9 1619.5,259.9 1619.5,235.7 1647,235.7" fill="none" stroke="#0000ff" stroke-width="3" stroke-linejoin="round" stroke-linecap="butt" /><polyline points="1118.2,250.6 1119,250.6 1119.2,262 1120,262 1120.2,266.2 1121,266.2 1121.3,269.7 1122.1,269.7 1122.4,314 1123.3,314 1123.5,335 1124.4,335 1124.6,321.7 1125.4,321.7 1125.6,314.3 1126.4,314.3 1126.6,306.7 1127.4,306.7 1127.7,341.6 1128.4,341.6 1128.7,335.4 1129.4,335.4 1129.7,296.9 1130.2,296.9 1130.5,340.7 1131.2,340.7 1131.4,288.7 1132,288.7 1132.3,303.7 1133.1,303.7 1133.4,311.6 1134.1,311.6 1134.3,326.5 1135,326.5 1135.2,288.2 1135.6,288.2 1135.9,335.9 1136.7,335.9 1137,323.6 1137.6,323.6 1137.8,302.2 1138.4,302.2 1138.7,318.4 1139.2,318.4 1139.4,326.1 1140,326.1 1140.3,330.9 1140.6,330.9 1140.9,326.9 1141.6,326.9 1141.9,337.5 1142.5,337.5 1142.8,327.3 1143.3,327.3 1143.5,302.4 1144.4,302.4 1144.7,349.1 1145.1,349.1 1145.3,300.4 1145.9,300.4 1146.1,354.6 1146.7,354.6 1146.9,358.7 1147.3,358.7 1147.5,357 1148.2,357 1148.5,347.9 1149,347.9 1149.2,311.3 1149.7,311.3 1150,352.3 1150.5,352.3 1150.8,347.6 1151.3,347.6 1151.5,342.3 1152,342.3 1152.3,319.1 1153.2,319.1 1153.4,314.3 1153.8,314.3 1154.1,333 1154.7,333 1155,321.4 1155.5,321.4 1155.8,334.2 1156.5,334.2 1156.7,300.8 1157.6,300.8 1157.8,319 1158.2,319 1158.4,346.4 1158.8,346.4 1159,356.1 1159.7,356.1 1160,343.9 1160.6,343.9 1160.9,334.9 1161.3,334.9 1161.6,347.4 1161.9,347.4 1162.1,359.3 1162.5,359.3 1162.8,329 1163.6,329 1163.8,282.7 1164.5,282.7 1164.7,289.4 1165.4,289.4 1165.6,251.1 1166.2,251.1 1166.5,265 1166.9,265 1167.1,283.5 1167.7,283.5 1168,251.4 1168.6,251.4 1168.8,283.2 1169.7,283.2 1170,292.6 1170.5,292.6 1170.8,261.6 1171.2,261.6 1171.4,282.6 1172.2,282.6 1172.4,236.4 1173.1,236.4 1173.3,289.8 1174.2,289.8 1174.4,268.5 1175,268.5 1175.3,308.6 1176.1,308.6 1176.4,291.6 1176.9,291.6 1177.2,314.2 1177.6,314.2 1177.9,297.7 1178.5,297.7 1178.7,272.1 1179.2,272.1 1179.4,330.6 1180.1,330.6 1180.4,275.6 1180.9,275.6 1181.2,327.5 1181.9,327.5 1182.2,332 1182.8,332 1183,294.9 1183.5,294.9 1184.7,299.8 1187.7,330.5 1190,333 1192.2,340.7 1194.3,343.9 1198.7,347.2 1200.4,352.6 1200.9,375.4 1204.1,377 1220,377 1220.9,393.9 1224.8,395 1244.3,395 1246.1,399.3 1279.1,399.3 1281.3,401.1 1292.2,401.1 1292.6,412.4 1320.4,413.5 1325.9,420 1341.1,420 1342.2,409.1 1344.3,399.3 1360,399.2 1361.8,390.3 1364.5,389.4 1365.4,381.3 1369.8,381.3 1370.7,399.2 1373.4,399.2 1373.4,381.3 1374,383.9 1374.7,383.9 1374.9,385.1 1375.3,385.1 1375.6,378.8 1376,378.8 1376.3,383.6 1377.9,383.6 1378.2,378.6 1379.8,378.6 1380,376.4 1380.9,376.4 1381.2,376.1 1382.2,376.1 1382.5,374.5 1383.8,374.5 1384,383.4 1384.6,383.4 1384.9,384.1 1385.4,384.1 1385.6,384 1386.6,384 1386.9,369.5 1387.3,369.5 1387.6,379.6 1388.6,379.6 1388.9,384 1390.5,384 1390.8,375.6 1391.4,375.6 1391.6,383.9 1393.1,383.9 1393.3,382.5 1394.8,382.5 1395.1,381 1395.7,381 1395.9,380.4 1397.6,380.4 1397.8,381.3 1398.9,381.3 1399.2,393.5 1399.7,393.5 1400,371.6 1400.6,371.6 1400.9,394.4 1402.2,394.4 1402.5,374.3 1404,374.3 1404.2,385.7 1405.9,385.7 1406.2,394.7 1407.1,394.7 1407.4,369.4 1408.6,369.4 1408.9,385.1 1409.4,385.1 1409.6,394.5 1410.4,394.5 1410.7,395.9 1411.8,395.9 1412.1,386.9 1413.7,386.9 1414,398.4 1415.3,398.4 1415.6,401.3 1416.1,401.3 1416.4,394.7 1417,394.7 1417.2,399.7 1418.2,399.7 1418.4,398.8 1419.2,398.8 1419.5,393.4 1420.4,393.4 1420.6,401.9 1421,401.9 1421.3,398.5 1422.6,398.5 1422.9,398.7 1424.6,398.7 1424.9,397.1 1425.6,397.1 1425.8,387.9 1426.6,387.9 1426.9,394.9 1428.2,394.9 1428.4,399.2 1429.5,399.2 1429.7,381 1430.6,381 1430.8,378.5 1431.6,378.5 1431.9,378.9 1432.6,378.9 1432.8,388.3 1433.3,388.3 1433.6,384.7 1435.3,384.7 1435.5,391.4 1437.1,391.4 1437.3,392.3 1438.2,392.3 1438.4,375.8 1440.1,375.8 1440.3,391.6 1441.2,391.6 1441.5,391.6 1442,391.6 1442.2,383.7 1443.7,383.7 1443.9,378.1 1444.6,378.1 1444.9,393.1 1445.7,393.1 1446,390 1446.6,390 1446.9,384.1 1447.9,384.1 1448.2,373.1 1450,373.1 1450.2,395.5 1451,395.5 1451.2,401.6 1451.8,401.6 1452.1,392.9 1452.5,392.9 1452.7,389.5 1454.4,389.5 1454.7,402.5 1455.8,402.5 1456,400.7 1456.6,400.7 1456.8,399.1 1458.2,399.1 1458.5,401 1460.2,401 1460.5,395.5 1462.2,395.5 1462.4,394.1 1463.5,394.1 1463.7,390.5 1465,390.5 1465.2,387.2 1466,387.2 1466.2,395.6 1467.3,395.6 1467.6,401.1 1468,401.1 1468.3,382.5 1469.8,382.5 1470,399.7 1471.2,399.7 1471.4,396.8 1472.7,396.8 1472.9,401.2 1474.3,401.2 1474.5,381 1475.7,381 1475.9,397.7 1477.7,397.7 1478,387.7 1479.7,387.7 1480,381.4 1481.7,381.4 1482,394.4 1482.4,394.4 1482.6,394.4 1483.7,394.4 1483.9,393.9 1484.7,393.9 1485,394.5 1486.3,394.5 1486.6,394.4 1487.3,394.4 1487.6,394.4 1489.2,394.4 1489.4,401.1 1490.2,401.1 1490.5,400.5 1492,400.5 1492.3,390.2 1493.1,390.2 1493.3,386.2 1493.9,386.2 1494.1,384.2 1495.8,384.2 1496,383 1496.6,383 1496.9,401.8 1498,401.8 1498.3,381.4 1498.9,381.4 1499.2,402.7 1500,402.7 1500.2,391.6 1501.6,391.6 1501.8,390.6 1502.8,390.6 1503,382.9 1504.6,382.9 1504.8,401.9 1505.9,401.9 1506.1,387.6 1506.6,387.6 1506.8,393.5 1508.6,393.5 1508.8,401.8 1510.4,401.8 1510.7,398.7 1511.9,398.7 1512.1,381.3 1513.7,381.3 1514,380.7 1515,380.7 1515.2,381.1 1516.2,381.1 1516.5,380.9 1517.3,380.9 1517.5,381.3 1518.5,381.3 1518.8,380.9 1520.5,380.9 1520.7,402.2 1522.4,402.2 1522.6,386.6 1523.9,386.6 1524.2,382.9 1525.2,382.9 1525.4,400.1 1527.2,400.1 1527.5,389.2 1528,389.2 1528.3,382.6 1529.4,382.6 1529.6,389.3 1530.5,389.3 1530.7,387.4 1532.5,387.4 1532.7,400.5 1534.4,400.5 1534.7,389.7 1535.6,389.7 1535.9,398.7 1537.3,398.7 1537.5,402.6 1538.6,402.6 1538.8,398.3 1539.6,398.3 1539.9,396.9 1541.1,396.9 1541.3,402.3 1542.2,402.3 1542.4,401 1543.8,401 1544.1,395 1544.5,395 1544.9,381.7 1553,381.7 1553.7,396.5 1556.7,406.1 1564.1,406.1 1564.4,379.5 1575.9,379.5 1576.6,381.4 1589.2,381.4 1590,406.1 1601,406.1 1601.3,381.7 1619.5,381.7 1620.3,405.7 1646.5,405.7" fill="none" stroke="#ff0000" stroke-width="3" stroke-linejoin="round" stroke-linecap="butt" /><polyline points="1118.2,477.6 1118.6,300 1119,331.3 1119.6,331.3 1119.8,288.9 1120.1,288.9 1120.4,304.5 1121.1,304.5 1121.3,336.4 1121.9,336.4 1122.1,337.3 1122.6,337.3 1122.8,263.9 1123.6,263.9 1123.8,228.7 1124.1,228.7 1124.4,234.4 1125.3,234.4 1125.5,239.8 1126.4,239.8 1126.7,219.3 1127.4,219.3 1127.7,229.5 1128.3,229.5 1128.5,294 1128.9,294 1129.2,275.9 1129.8,275.9 1130,301.6 1130.5,301.6 1130.8,298.6 1131.4,298.6 1131.6,273.1 1132.3,273.1 1132.5,297.3 1133.2,297.3 1133.4,236.4 1134,236.4 1134.2,297.8 1135.1,297.8 1135.4,272.9 1136,272.9 1136.3,272.5 1137.1,272.5 1137.3,232.2 1137.8,232.2 1138,274.5 1138.8,274.5 1139.1,250.9 1139.8,250.9 1140,293.4 1140.9,293.4 1141.1,290.8 1141.9,290.8 1142.1,292.7 1142.4,292.7 1142.7,300.1 1143.5,300.1 1143.8,302.1 1144.1,302.1 1144.3,286.3 1145.1,286.3 1145.4,286.1 1145.8,286.1 1146.1,281.3 1146.8,281.3 1147.1,294.8 1147.5,294.8 1147.7,301.8 1148.6,301.8 1148.9,271.5 1149.6,271.5 1149.9,270.5 1150.6,270.5 1150.9,219.3 1151.3,219.3 1151.6,272.4 1152.1,272.4 1152.3,284 1152.8,284 1153.1,279.9 1153.4,279.9 1153.7,293.4 1154.1,293.4 1154.4,277.7 1155,277.7 1155.3,234.3 1156.2,234.3 1156.4,257.7 1156.8,257.7 1157.1,299.8 1157.7,299.8 1157.9,287.9 1158.6,287.9 1158.8,289.4 1159.5,289.4 1159.8,304.7 1160.2,304.7 1160.5,260.2 1160.8,260.2 1161,278.1 1161.7,278.1 1161.9,299.3 1162.8,299.3 1163,257 1163.6,257 1163.8,267.6 1164.3,267.6 1164.5,300.7 1165.1,300.7 1165.3,273.2 1166,273.2 1166.2,277.8 1166.5,277.8 1166.8,273.9 1167.3,273.9 1167.5,319.5 1168.1,319.5 1168.3,302.3 1169,302.3 1169.3,330.6 1169.8,330.6 1170.1,324.5 1170.6,324.5 1170.8,312.7 1171.5,312.7 1171.7,311 1172.5,311 1172.7,259.8 1173.5,259.8 1173.7,283 1174.6,283 1174.8,344.6 1175.5,344.6 1175.8,348.8 1176.4,348.8 1176.6,265 1177,265 1177.3,278.5 1177.8,278.5 1178,257 1178.7,257 1178.9,305.1 1179.5,305.1 1179.7,257.4 1180.5,257.4 1180.7,262.2 1181.1,262.2 1181.3,328.8 1181.7,328.8 1182,269.7 1182.5,269.7 1182.7,314.1 1183.6,314.1 1183.9,264.7 1184.6,264.7 1185.7,300 1186.5,230 1187.3,190 1188.4,170 1190.1,160 1193,151.3 1196,148.5 1198.4,146 1200,140.6 1200.7,116 1204.5,113.7 1219.9,113.7 1220.7,99.1 1225.3,94.5 1236,94.5 1236,68.1 1245.2,68.1 1246,64.1 1280.5,64.1 1283.6,86.1 1292,86.1 1292.8,91.4 1298.2,113.7 1319.7,113.7 1322,132.9 1328.1,139 1340.4,140.6 1348,142.9 1352.7,146.7 1362.6,146.7 1365.7,152.3 1374.6,152.3 1375.5,141.9 1376.8,154.6 1379,158 1380.5,150 1382.3,146 1383.5,160 1385,156 1387.3,139.6 1389,155 1391,157.8 1393,153 1394.5,160 1396.4,137.3 1398,152 1400,157.8 1402,150 1403.7,137.3 1405.5,155 1407,158 1409.1,149.1 1411,157.8 1413.7,146.4 1415.5,155 1417.3,146.4 1419.5,154 1421,160.1 1423,158 1425,156 1427,162.3 1429.2,141.9 1431,155 1433,160 1435.5,150 1437,158 1439.5,145 1441.4,130.9 1443,150 1447,157 1449.2,158.8 1450.5,125 1451,126.5 1451.6,126.5 1451.8,137.1 1453,137.1 1453.2,127.7 1453.7,127.7 1453.9,141.3 1454.5,141.3 1454.8,135.8 1455.6,135.8 1455.9,141.8 1457.6,141.8 1457.8,140.4 1458.6,140.4 1458.8,138.8 1460,138.8 1460.3,124.9 1461.3,124.9 1461.6,136.7 1462.2,136.7 1462.5,139.7 1464.1,139.7 1464.4,133.2 1465.8,133.2 1466,135.4 1466.8,135.4 1467,138.2 1467.5,138.2 1467.8,131.9 1469.2,131.9 1469.5,118.2 1471.2,118.2 1471.5,141.2 1472.2,141.2 1472.5,141 1473.4,141 1473.6,141.4 1474.4,141.4 1474.7,140.5 1476.4,140.5 1476.7,137.8 1478.1,137.8 1478.4,136.8 1479,136.8 1479.3,118.3 1479.9,118.3 1480.1,120.9 1481.8,120.9 1482,121.5 1483.2,121.5 1483.4,117.3 1484.6,117.3 1484.8,140 1486.5,140 1486.7,135.7 1487.8,135.7 1488.1,117.6 1489.3,117.6 1489.6,118.8 1491.1,118.8 1491.4,117.8 1492.2,117.8 1492.5,125.9 1493.9,125.9 1494.2,125.3 1494.7,125.3 1495,140.8 1496.6,140.8 1496.9,121 1497.6,121 1497.9,138.8 1499.4,138.8 1499.7,125 1501.1,125 1501.3,135.5 1503,135.5 1503.3,136.7 1504.9,136.7 1506,123.5 1508,135 1510,128 1512,140 1514,126 1516,138 1518,131 1520,140 1521,125 1523,118 1525,135 1527,128 1529,140 1531,122 1533,135 1535,118 1537,138 1539,126 1541,132 1543,120 1544.6,139.2 1552.4,139.2 1552.4,117 1562.9,117 1562.9,141.8 1589,141.8 1589,116.3 1600.8,116.3 1600.8,137.9 1646.6,137.9" fill="none" stroke="#006e00" stroke-width="3" stroke-linejoin="round" stroke-linecap="butt" /></g><path d="M1092.2 41.5V498.3H1672.4V41.5" fill="none" stroke="#000" stroke-width="3.8" stroke-linejoin="miter"/><path d="M1092.2 477.6h-9.6M1092.2 371.1h-9.6M1092.2 264.6h-9.6M1092.2 158.0h-9.6M1092.2 51.5h-9.6M1118.2 498.3v9.6M1347.1 498.3v9.6M1576.0 498.3v9.6M1672.4 477.6h9.4M1672.4 390.6h9.4M1672.4 303.5h9.4M1672.4 216.4h9.4M1672.4 129.4h9.4" stroke="#000" stroke-width="3.3" fill="none"/><g font-family="DejaVu Sans, Liberation Sans, sans-serif" font-size="37" fill="#000"><text x="1076" y="491.6" text-anchor="end">0</text><text x="1076" y="385.1" text-anchor="end">10</text><text x="1076" y="278.6" text-anchor="end">20</text><text x="1076" y="172.0" text-anchor="end">30</text><text x="1076" y="65.5" text-anchor="end">40</text><text x="1118.2" y="541.6" text-anchor="middle">0</text><text x="1347.1" y="541.6" text-anchor="middle">5000</text><text x="1576.0" y="541.6" text-anchor="middle">10000</text><text x="1688.5" y="491.6">0</text><text x="1688.5" y="404.6">2</text><text x="1688.5" y="317.5">4</text><text x="1688.5" y="230.4">6</text><text x="1688.5" y="143.4">8</text><text x="1382.4" y="586.9" text-anchor="middle">Time [min]</text><text transform="translate(1011.8 268.7) rotate(-90)" text-anchor="middle">Job Submission Rate</text><text transform="translate(1747 271.2) rotate(-90)" text-anchor="middle">Machines of Type X</text></g><g font-family="DejaVu Sans, Liberation Sans, sans-serif" font-size="19.3" fill="#000"><rect x="1443.5" y="52.8" width="219" height="172.2" rx="4" ry="4" fill="rgba(255,255,255,0.8)" stroke="#cccccc" stroke-width="1.5"/><path d="M1449.8 68.4H1489" stroke="rgba(0,0,255,0.6)" stroke-width="3"/><text x="1503.5" y="75.2" textLength="103.6" lengthAdjust="spacingAndGlyphs">Type 0 Jobs</text><path d="M1449.8 96.1H1489" stroke="rgba(255,0,0,0.6)" stroke-width="3"/><text x="1503.5" y="102.9" textLength="103.6" lengthAdjust="spacingAndGlyphs">Type 1 Jobs</text><path d="M1449.8 123.7H1489" stroke="rgba(0,128,0,0.6)" stroke-width="3"/><text x="1503.5" y="130.6" textLength="103.6" lengthAdjust="spacingAndGlyphs">Type 2 Jobs</text><path d="M1449.8 151.4H1489" stroke="#0000ff" stroke-width="3"/><text x="1503.5" y="158.2" textLength="152.3" lengthAdjust="spacingAndGlyphs">Type 0 Machines</text><path d="M1449.8 179.0H1489" stroke="#ff0000" stroke-width="3"/><text x="1503.5" y="185.9" textLength="152.3" lengthAdjust="spacingAndGlyphs">Type 1 Machines</text><path d="M1449.8 206.7H1489" stroke="#006e00" stroke-width="3"/><text x="1503.5" y="213.6" textLength="152.3" lengthAdjust="spacingAndGlyphs">Type 2 Machines</text></g>
<g font-family="'Liberation Sans', Arial, Helvetica, sans-serif" fill="#000"><text x="119.2" y="726.9" font-size="36.2" textLength="40.1" lengthAdjust="spacingAndGlyphs">(<tspan font-weight="bold">a</tspan>)</text><text x="167.9" y="726.9" font-size="36.2" textLength="662.4" lengthAdjust="spacing">Response to sudden changes in demand</text><text x="226.6" y="770.2" font-size="36.2" textLength="495.8" lengthAdjust="spacing">(Goudswaard, Ma, et al. 2021).</text><text x="910.6" y="726.9" font-size="36.2" textLength="40.5" lengthAdjust="spacingAndGlyphs">(<tspan font-weight="bold">b</tspan>)</text><text x="960.6" y="726.9" font-size="36.2" textLength="772.3" lengthAdjust="spacing">Machines changing job types in response to the</text><text x="1118.2" y="770.2" font-size="36.2" textLength="406.6" lengthAdjust="spacing">demand (Obi et al. 2022).</text></g>
</svg>

</body></html>
